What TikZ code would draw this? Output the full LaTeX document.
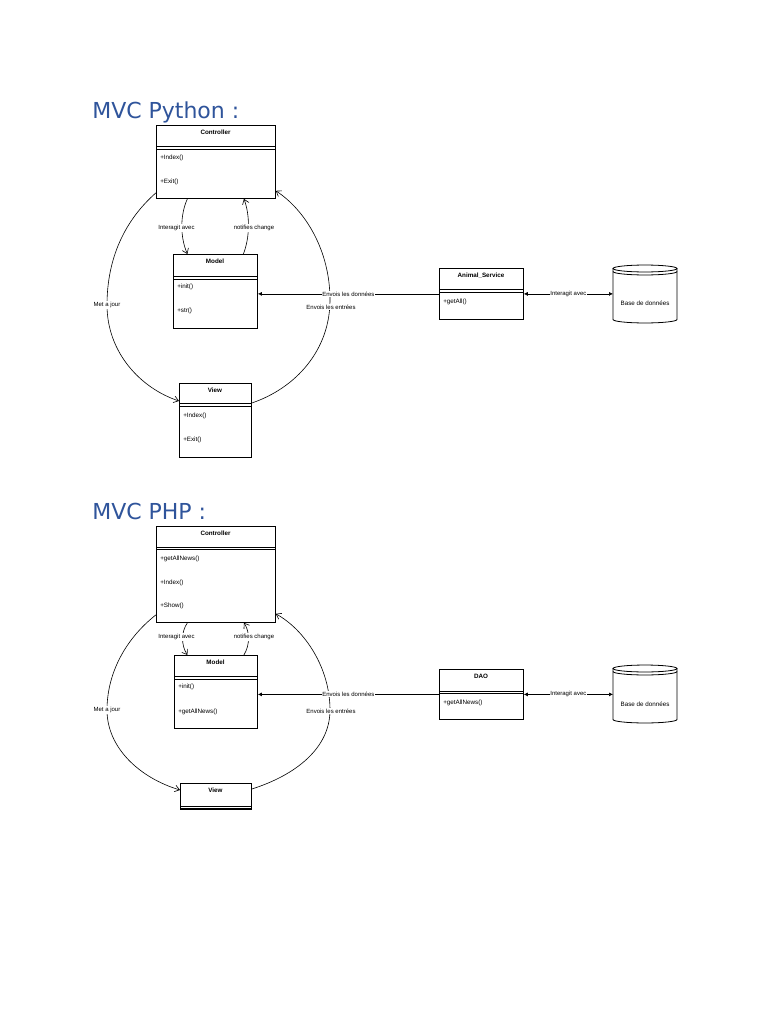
\documentclass[tikz,border=0pt]{standalone}
\usepackage{fontspec}
\setmainfont{Liberation Sans}
\newfontfamily\headfont{DejaVu Sans}
\usetikzlibrary{arrows.meta,calc}
\definecolor{headblue}{RGB}{47,84,155}
% name, x1, y1, x2, y2, header y, title
\newcommand\umlclass[7]{%
  \node[classbox, minimum width={(#4-#2)*0.75pt}, minimum height={(#5-#3)*0.75pt}] (#1) at (#2,#3) {};
  \node[ctitle] (#1-title) at ({(#2+#4)/2},{#3+7.5}) {#7};
  \draw[boxline] (#2,#6) -- (#4,#6) (#2,{#6+2.5}) -- (#4,{#6+2.5});
}
% name, x1, y1, x2, y2, text y
\newcommand\dbcyl[6]{%
  \node[inner sep=0pt, anchor=north west, minimum width={(#4-#2)*0.75pt}, minimum height={(#5-#3)*0.75pt}] (#1) at (#2,#3) {};
  \draw[boxline] ({(#2+#4)/2},{#3+3.5}) ellipse [x radius={(#4-#2)*0.375pt}, y radius=2.6pt];
  \draw[boxline] (#2,{#3+6.5}) arc[start angle=180, end angle=360, x radius={(#4-#2)*0.375pt}, y radius=2.6pt];
  \draw[boxline] (#2,{#3+3.5}) -- (#2,{#5-3.5}) arc[start angle=180, end angle=360, x radius={(#4-#2)*0.375pt}, y radius=2.6pt] -- (#4,{#3+3.5});
  \node[meth, anchor=center] (#1-label) at ({(#2+#4)/2},#6) {Base de données};
}
\begin{document}
\begin{tikzpicture}[x=0.75pt, y=-0.75pt,
  boxline/.style={line width=0.6pt},
  classbox/.style={draw, boxline, inner sep=0pt, anchor=north west},
  ctitle/.style={font=\fontsize{4.7}{5}\selectfont\bfseries, inner sep=0pt},
  meth/.style={font=\fontsize{4.7}{5}\selectfont, inner sep=0pt, anchor=west},
  lbl/.style={font=\fontsize{4.5}{5}\selectfont, fill=white, inner sep=0.6pt},
  flow/.style={line width=0.45pt, -{Straight Barb[length=3.5pt,width=5pt]}},
  data/.style={line width=0.6pt, -{Latex[length=3pt,width=3pt]}},
  both/.style={line width=0.45pt, {Latex[length=3pt,width=3pt]}-{Latex[length=3pt,width=3pt]}},
  heading/.style={font=\headfont\fontsize{16.5}{19}\selectfont, text=headblue, inner sep=0pt, anchor=base west}]
\useasboundingbox (0,0) rectangle (768,1024);
\fill[white] (0,0) rectangle (768,1024);

%% ---------------- MVC Python ----------------
\node[heading] (t1) at (92,118) {MVC Python :};

\umlclass{pctrl}{156}{125}{275}{198}{146.5}{Controller}
\node[meth] (pctrl-m1) at (160,158) {+Index()};
\node[meth] (pctrl-m2) at (160,182) {+Exit()};

\umlclass{pmodel}{173}{254}{257}{328}{276.5}{Model}
\node[meth] (pmodel-m1) at (177,287) {+init()};
\node[meth] (pmodel-m2) at (177,311) {+str()};

\umlclass{pview}{179}{383}{251}{457}{403.5}{View}
\node[meth] (pview-m1) at (183,416) {+Index()};
\node[meth] (pview-m2) at (183,440) {+Exit()};

\umlclass{psvc}{439}{268}{523}{319}{289.5}{Animal\_Service}
\node[meth] (psvc-m1) at (443,302) {+getAll()};

\dbcyl{pdb}{613}{265}{677}{323}{303}

% connectors
\draw[flow] ($(pctrl.south west)+(0,-6)$) .. controls (125,220) and (107,258) .. (107,305)
  .. controls (107,352) and (140,388) .. ($(pview.north west)+(0,18)$);
\node[lbl] (pl1) at (107,305) {Met a jour};

\draw[flow] ($(pview.north east)+(0,20)$) .. controls (296,388) and (330,350) .. (330,300)
  .. controls (330,250) and (305,210) .. ($(pctrl.south east)+(0,-8)$);
\node[lbl] (pl2) at (331,307) {Envois les entrées};

\draw[flow] ($(pctrl.south)+(-28.5,0)$) .. controls (180,215) and (180,237) .. ($(pmodel.north)+(-28,0)$);
\node[lbl] (pl3) at (176.5,228) {Interagit avec};

\draw[flow] ($(pmodel.north)+(28,0)$) .. controls (250,237) and (250,215) .. ($(pctrl.south)+(28,0)$);
\node[lbl] (pl4) at (254,228) {notifies change};

\draw[data] (psvc.west) -- (psvc.west -| pmodel.east)
  node[lbl, pos=0.5] (pl5) {Envois les données};
\draw[both] (psvc.east) -- (psvc.east -| pdb.west)
  node[lbl, pos=0.5] (pl6) {Interagit avec};

%% ---------------- MVC PHP ----------------
\node[heading] (t2) at (92,519) {MVC PHP :};

\umlclass{hctrl}{156}{526}{275}{622}{547}{Controller}
\node[meth] (hctrl-m1) at (160,559) {+getAllNews()};
\node[meth] (hctrl-m2) at (160,583) {+Index()};
\node[meth] (hctrl-m3) at (160,606) {+Show()};

\umlclass{hmodel}{174}{655}{257}{728}{676.5}{Model}
\node[meth] (hmodel-m1) at (178,687) {+init()};
\node[meth] (hmodel-m2) at (178,712) {+getAllNews()};

\umlclass{hview}{180}{783}{251}{809}{806}{View}

\umlclass{hdao}{439}{669}{523}{719}{691}{DAO}
\node[meth] (hdao-m1) at (443,703) {+getAllNews()};

\dbcyl{hdb}{613}{665}{677}{723}{704}

\draw[flow] ($(hctrl.south west)+(0,-8)$) .. controls (124,640) and (107,675) .. (107,710)
  .. controls (107,748) and (140,778) .. ($(hview.north west)+(0,7)$);
\node[lbl] (hl1) at (107,710) {Met a jour};

\draw[flow] ($(hview.north east)+(0,6)$) .. controls (296,775) and (330,748) .. (330,710)
  .. controls (330,668) and (305,630) .. ($(hctrl.south east)+(0,-9)$);
\node[lbl] (hl2) at (331,711) {Envois les entrées};

\draw[flow] ($(hctrl.south)+(-28.5,0)$) .. controls (181,632) and (181,645) .. ($(hmodel.north)+(-28.5,0)$);
\node[lbl] (hl3) at (176.5,637) {Interagit avec};

\draw[flow] ($(hmodel.north)+(28,0)$) .. controls (250,645) and (250,632) .. ($(hctrl.south)+(28,0)$);
\node[lbl] (hl4) at (254,637) {notifies change};

\draw[data] (hdao.west) -- (hdao.west -| hmodel.east)
  node[lbl, pos=0.5] (hl5) {Envois les données};
\draw[both] (hdao.east) -- (hdao.east -| hdb.west)
  node[lbl, pos=0.5] (hl6) {Interagit avec};
\end{tikzpicture}
\end{document}
